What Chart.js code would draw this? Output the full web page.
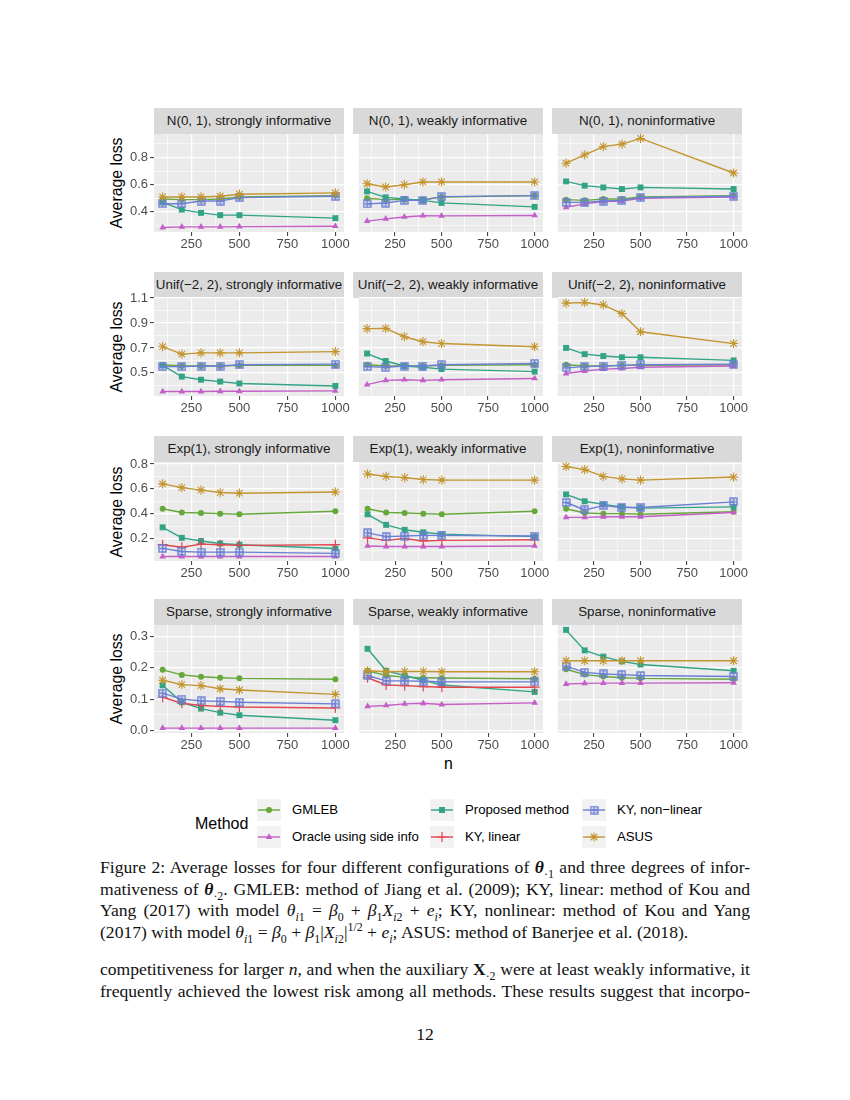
<!DOCTYPE html>
<html>
<head>
<meta charset="utf-8">
<script src="https://cdn.jsdelivr.net/npm/chart.js@4"></script>
<style>
  body { margin: 0; background: #fff; width: 850px; height: 1100px; position: relative; overflow: hidden;
         font-family: "Liberation Sans", Arial, sans-serif; }
  .strip { position: absolute; height: 26px; background: #D9D9D9; color: #1A1A1A; font-size: 13.4px;
           line-height: 26px; text-align: center; white-space: nowrap; }
  .panel { position: absolute; }
  .ylab { position: absolute; width: 120px; height: 20px; line-height: 20px; text-align: center;
          font-size: 15.8px; color: #000; transform: rotate(-90deg); white-space: nowrap; }
  .xlab { position: absolute; font-size: 15.8px; color: #000; }
  .legtitle { position: absolute; font-size: 16px; color: #000; }
  .legtext { position: absolute; font-size: 13.2px; color: #000; white-space: nowrap; line-height: 22px; }
  .key { position: absolute; }
  .tex { position: absolute; left: 100px; width: 650px; font-family: "Liberation Serif", "Times New Roman", serif;
         font-size: 17.6px; color: #111; }
  .tex .ln { height: 21.5px; line-height: 21.5px; text-align: justify; text-align-last: justify; white-space: normal; }
  .tex .ln.last { text-align-last: left; }
  .tex sub, .tex sup { font-size: 0.68em; line-height: 0; }
  .pageno { position: absolute; top: 1024px; left: 0; width: 850px; text-align: center;
            font-family: "Liberation Serif", serif; font-size: 17.6px; color: #111; }
</style>
</head>
<body>
<div id="fig"></div>

<div class="tex" style="top:857px">
  <div class="ln">Figure 2: Average losses for four different configurations of <b><i>θ</i></b><sub>·1</sub> and three degrees of infor-</div>
  <div class="ln">mativeness of <b><i>θ</i></b><sub>·2</sub>. GMLEB: method of Jiang et al. (2009); KY, linear: method of Kou and</div>
  <div class="ln">Yang (2017) with model <i>θ</i><sub><i>i</i>1</sub> = <i>β</i><sub>0</sub> + <i>β</i><sub>1</sub><i>X</i><sub><i>i</i>2</sub> + <i>e</i><sub><i>i</i></sub>; KY, nonlinear: method of Kou and Yang</div>
  <div class="ln last">(2017) with model <i>θ</i><sub><i>i</i>1</sub> = <i>β</i><sub>0</sub> + <i>β</i><sub>1</sub>|<i>X</i><sub><i>i</i>2</sub>|<sup>1/2</sup> + <i>e</i><sub><i>i</i></sub>; ASUS: method of Banerjee et al. (2018).</div>
</div>
<div class="tex" style="top:959px">
  <div class="ln">competitiveness for larger <i>n</i>, and when the auxiliary <b>X</b><sub>·2</sub> were at least weakly informative, it</div>
  <div class="ln">frequently achieved the lowest risk among all methods. These results suggest that incorpo-</div>
</div>
<div class="pageno">12</div>

<script>
// x values and facet labels
const nValues = [100, 200, 300, 400, 500, 1000];
const methods = ['GMLEB', 'Oracle using side info', 'Proposed method', 'KY, linear', 'KY, non\u2212linear', 'ASUS'];
const rowNames = ['N(0, 1)', 'Unif(\u22122, 2)', 'Exp(1)', 'Sparse'];
const colNames = ['strongly informative', 'weakly informative', 'noninformative'];
const xTicks = [250, 500, 750, 1000];
const yTicks = [
  [0.4, 0.6, 0.8],
  [0.5, 0.7, 0.9, 1.1],
  [0.2, 0.4, 0.6, 0.8],
  [0.0, 0.1, 0.2, 0.3]
];

// average loss per method: [row][col] -> values at nValues (null = not drawn)
const gmleb = [
  [[0.495, 0.49, 0.49, 0.495, 0.51, 0.52], [0.50, 0.49, 0.49, 0.49, 0.51, 0.52], [0.49, 0.485, 0.495, 0.495, 0.51, 0.52]],
  [[0.565, 0.555, 0.555, 0.555, 0.56, 0.56], [0.565, 0.555, 0.555, 0.555, 0.56, 0.565], [0.565, 0.555, 0.555, 0.56, 0.56, 0.565]],
  [[0.44, 0.41, 0.405, 0.40, 0.395, 0.42], [0.44, 0.41, 0.405, 0.40, 0.395, 0.42], [0.44, 0.405, 0.40, 0.40, 0.395, 0.415]],
  [[0.193, 0.177, 0.171, 0.168, 0.166, 0.163], [0.19, 0.175, 0.17, 0.168, 0.167, 0.165], [0.195, 0.178, 0.172, 0.168, 0.166, 0.163]]
];
const oracle = [
  [[0.285, 0.29, 0.29, 0.29, 0.292, 0.295], [0.332, 0.349, 0.363, 0.372, 0.371, 0.374], [0.434, 0.459, 0.476, 0.48, 0.50, 0.51]],
  [[0.35, 0.35, 0.35, 0.352, 0.352, 0.355], [0.405, 0.44, 0.445, 0.44, 0.445, 0.455], [0.495, 0.515, 0.53, 0.535, 0.545, 0.555]],
  [[0.055, 0.055, 0.055, 0.055, 0.055, 0.055], [0.14, 0.135, 0.135, 0.135, 0.135, 0.14], [0.37, 0.37, 0.375, 0.375, 0.375, 0.41]],
  [[0.008, 0.008, 0.008, 0.008, 0.008, 0.008], [0.077, 0.08, 0.085, 0.087, 0.083, 0.088], [0.148, 0.15, 0.151, 0.151, 0.151, 0.152]]
];
const proposed = [
  [[0.47, 0.417, 0.393, 0.376, 0.376, 0.354], [0.551, 0.507, 0.495, 0.485, 0.466, 0.437], [0.624, 0.593, 0.58, 0.568, 0.58, 0.568]],
  [[0.56, 0.47, 0.445, 0.43, 0.415, 0.395], [0.655, 0.595, 0.555, 0.545, 0.53, 0.51], [0.70, 0.65, 0.635, 0.625, 0.625, 0.60]],
  [[0.29, 0.205, 0.18, 0.16, 0.15, 0.12], [0.395, 0.31, 0.27, 0.25, 0.235, 0.215], [0.555, 0.50, 0.475, 0.455, 0.445, 0.455]],
  [[0.144, 0.09, 0.07, 0.057, 0.049, 0.033], [0.26, 0.19, 0.175, 0.16, 0.145, 0.123], [0.32, 0.255, 0.235, 0.22, 0.21, 0.19]]
];
const kyLinear = [
  [null, null, null],
  [null, null, null],
  [[0.15, 0.13, 0.155, 0.15, 0.145, 0.15], [0.205, 0.185, 0.20, 0.18, 0.185, 0.19], null],
  [[0.106, 0.087, 0.08, 0.077, 0.075, 0.072], [0.168, 0.145, 0.143, 0.14, 0.138, 0.138], null]
];
const kyNonlinear = [
  [[0.46, 0.46, 0.48, 0.48, 0.505, 0.515], [0.459, 0.465, 0.485, 0.485, 0.512, 0.52], [0.47, 0.47, 0.48, 0.485, 0.505, 0.515]],
  [[0.55, 0.55, 0.555, 0.555, 0.565, 0.57], [0.55, 0.545, 0.555, 0.555, 0.565, 0.575], [0.54, 0.55, 0.555, 0.56, 0.565, 0.57]],
  [[0.12, 0.095, 0.09, 0.09, 0.09, 0.08], [0.245, 0.215, 0.22, 0.225, 0.225, 0.22], [0.49, 0.43, 0.465, 0.45, 0.45, 0.495]],
  [[0.119, 0.10, 0.095, 0.093, 0.09, 0.085], [0.175, 0.158, 0.158, 0.157, 0.155, 0.155], [0.205, 0.185, 0.18, 0.178, 0.175, 0.172]]
];
const asus = [
  [[0.51, 0.51, 0.51, 0.515, 0.53, 0.54], [0.607, 0.583, 0.60, 0.62, 0.62, 0.62], [0.758, 0.82, 0.88, 0.898, 0.94, 0.686]],
  [[0.71, 0.65, 0.66, 0.66, 0.66, 0.67], [0.855, 0.857, 0.79, 0.75, 0.735, 0.71], [1.06, 1.065, 1.045, 0.975, 0.83, 0.735]],
  [[0.64, 0.61, 0.59, 0.57, 0.565, 0.575], [0.72, 0.70, 0.69, 0.675, 0.67, 0.67], [0.78, 0.755, 0.70, 0.68, 0.67, 0.695]],
  [[0.16, 0.146, 0.143, 0.133, 0.129, 0.115], [0.19, 0.187, 0.188, 0.188, 0.187, 0.187], [0.222, 0.222, 0.222, 0.222, 0.222, 0.222]]
];
const series = [gmleb, oracle, proposed, kyLinear, kyNonlinear, asus];

// styling
const colors = ['#66A83A', '#C35FC6', '#33A386', '#E2474F', '#6B7FD4', '#C4952F'];
const FONT = '"Liberation Sans", Arial, sans-serif';

// ggplot shape 12 (square with plus) as an image point style
function squarePlus(color) {
  const c = document.createElement('canvas');
  c.width = 9; c.height = 9;
  const g = c.getContext('2d');
  g.strokeStyle = color;
  g.lineWidth = 1.4;
  g.strokeRect(1, 1, 7, 7);
  g.beginPath();
  g.moveTo(4.5, 1); g.lineTo(4.5, 8);
  g.moveTo(1, 4.5); g.lineTo(8, 4.5);
  g.stroke();
  return c;
}

const markers = [
  { pointStyle: 'circle', radius: 3, borderWidth: 0 },
  { pointStyle: 'triangle', radius: 3.8, borderWidth: 0 },
  { pointStyle: 'rect', radius: 4.2, borderWidth: 0 },
  { pointStyle: 'cross', radius: 5, borderWidth: 1.2 },
  { pointStyle: squarePlus(colors[4]), radius: 5, borderWidth: 0 },
  { pointStyle: 'star', radius: 4.6, borderWidth: 1.1 }
];

// layout
const colLeft = [154, 353, 552];
const panelW = 190;
const stripTop = [108, 272, 436, 599];
const stripH = 26;
const plotH = [98, 98, 99, 108];
const yAxisW = 36;
const xAxisH = 22;
const padTop = 8, padRight = 10;
const xMin = 55, xMax = 1045;

function rowRange(r) {
  let lo = Infinity, hi = -Infinity;
  series.forEach(s => s[r].forEach(vals => {
    if (!vals) return;
    vals.forEach(v => { lo = Math.min(lo, v); hi = Math.max(hi, v); });
  }));
  const pad = (hi - lo) * 0.05;
  return [lo - pad, hi + pad];
}

function withMinors(majors, lo, hi) {
  const step = majors.length > 1 ? majors[1] - majors[0] : 0.2;
  const out = [];
  const first = majors[0] - step / 2;
  if (first >= lo) out.push({ value: first, minor: true });
  majors.forEach((m, i) => {
    out.push({ value: m, minor: false });
    const mid = i < majors.length - 1 ? (m + majors[i + 1]) / 2 : m + step / 2;
    if (mid <= hi) out.push({ value: mid, minor: true });
  });
  return out.filter(t => t.value >= lo - 1e-9 && t.value <= hi + 1e-9);
}

const bgPlugin = {
  id: 'panelBg',
  beforeDraw(chart) {
    const a = chart.chartArea, ctx = chart.ctx;
    ctx.save();
    ctx.fillStyle = '#EBEBEB';
    ctx.fillRect(a.left, a.top, a.right - a.left, a.bottom - a.top);
    ctx.restore();
  }
};

const fig = document.getElementById('fig');

function addDiv(cls, style, html) {
  const d = document.createElement('div');
  d.className = cls;
  Object.assign(d.style, style);
  d.innerHTML = html;
  fig.appendChild(d);
  return d;
}

for (let r = 0; r < 4; r++) {
  const [yLo, yHi] = rowRange(r);
  const yGrid = withMinors(yTicks[r], yLo, yHi);
  const xGrid = withMinors(xTicks, xMin, xMax);
  const plotTop = stripTop[r] + stripH;

  addDiv('ylab', { left: (117 - 60) + 'px', top: (plotTop + plotH[r] / 2 - 10) + 'px' }, 'Average loss');

  for (let c = 0; c < 3; c++) {
    addDiv('strip', { left: colLeft[c] + 'px', top: stripTop[r] + 'px', width: panelW + 'px' },
      rowNames[r] + ', ' + colNames[c]);

    const axW = c === 0 ? yAxisW : 0;
    const canvas = document.createElement('canvas');
    canvas.className = 'panel';
    canvas.width = panelW + axW + padRight;
    canvas.height = plotH[r] + xAxisH + padTop;
    canvas.style.left = (colLeft[c] - axW) + 'px';
    canvas.style.top = (plotTop - padTop) + 'px';
    fig.appendChild(canvas);

    const datasets = [];
    // reverse order so the last method is drawn on top (as in ggplot)
    for (let m = series.length - 1; m >= 0; m--) {
      const vals = series[m][r][c];
      if (!vals) continue;
      datasets.push({
        label: methods[m],
        data: nValues.map((n, i) => ({ x: n, y: vals[i] })),
        borderColor: colors[m],
        backgroundColor: colors[m],
        borderWidth: 1.4,
        pointStyle: markers[m].pointStyle,
        pointRadius: markers[m].radius,
        pointBorderWidth: markers[m].borderWidth,
        pointBorderColor: colors[m],
        pointBackgroundColor: colors[m],
        fill: false,
        tension: 0,
        clip: false
      });
    }

    const gridW = ctx => (ctx.tick && ctx.tick.minor) ? 0.6 : 1.2;
    const tickCol = ctx => (ctx.tick && ctx.tick.minor) ? 'rgba(0,0,0,0)' : '#333333';

    new Chart(canvas.getContext('2d'), {
      type: 'line',
      data: { datasets },
      options: {
        responsive: false,
        animation: false,
        layout: { padding: { top: padTop, right: padRight, left: 0, bottom: 0 } },
        plugins: { legend: { display: false }, tooltip: { enabled: false } },
        scales: {
          x: {
            type: 'linear', min: xMin, max: xMax,
            afterBuildTicks: s => { s.ticks = xGrid.map(t => ({ value: t.value, minor: t.minor })); },
            afterFit: s => { s.height = xAxisH; s.paddingLeft = 0; s.paddingRight = 0; },
            grid: { color: '#FFFFFF', lineWidth: gridW, drawTicks: true, tickLength: 4, tickColor: tickCol, tickWidth: 1 },
            border: { display: false },
            ticks: {
              color: '#4D4D4D', font: { family: FONT, size: 13 }, padding: 1,
              autoSkip: false, maxRotation: 0,
              callback: (v, i, ticks) => ticks[i].minor ? '' : String(v)
            }
          },
          y: {
            type: 'linear', min: yLo, max: yHi,
            afterBuildTicks: s => { s.ticks = yGrid.map(t => ({ value: t.value, minor: t.minor })); },
            afterFit: s => { s.width = axW; s.paddingTop = 0; s.paddingBottom = 0; },
            grid: { color: '#FFFFFF', lineWidth: gridW, drawTicks: c === 0, tickLength: 4, tickColor: tickCol, tickWidth: 1 },
            border: { display: false },
            ticks: {
              display: c === 0,
              color: '#4D4D4D', font: { family: FONT, size: 13 }, padding: 2,
              autoSkip: false,
              callback: (v, i, ticks) => ticks[i].minor ? '' : v.toFixed(1)
            }
          }
        }
      },
      plugins: [bgPlugin]
    });
  }
}

// x axis title
addDiv('xlab', { left: '444px', top: '755px' }, 'n');

// legend
addDiv('legtitle', { left: '195px', top: '815px' }, 'Method');
const keyX = [257, 430, 582];
const keyY = [799, 826];
methods.forEach((name, m) => {
  const col = Math.floor(m / 2), row = m % 2;
  const kc = document.createElement('canvas');
  kc.className = 'key';
  kc.width = 24; kc.height = 22;
  kc.style.left = keyX[col] + 'px';
  kc.style.top = keyY[row] + 'px';
  fig.appendChild(kc);
  const g = kc.getContext('2d');
  g.fillStyle = '#F2F2F2';
  g.fillRect(0, 0, 24, 22);
  g.strokeStyle = colors[m];
  g.fillStyle = colors[m];
  g.lineWidth = 1.4;
  g.beginPath(); g.moveTo(1, 11); g.lineTo(23, 11); g.stroke();
  g.lineWidth = markers[m].borderWidth || 1;
  Chart.helpers.drawPoint(g, {
    pointStyle: markers[m].pointStyle, rotation: 0,
    radius: markers[m].radius, borderWidth: markers[m].borderWidth
  }, 12, 11);
  addDiv('legtext', { left: (keyX[col] + 35) + 'px', top: keyY[row] + 'px' }, name);
});
</script>
</body>
</html>
